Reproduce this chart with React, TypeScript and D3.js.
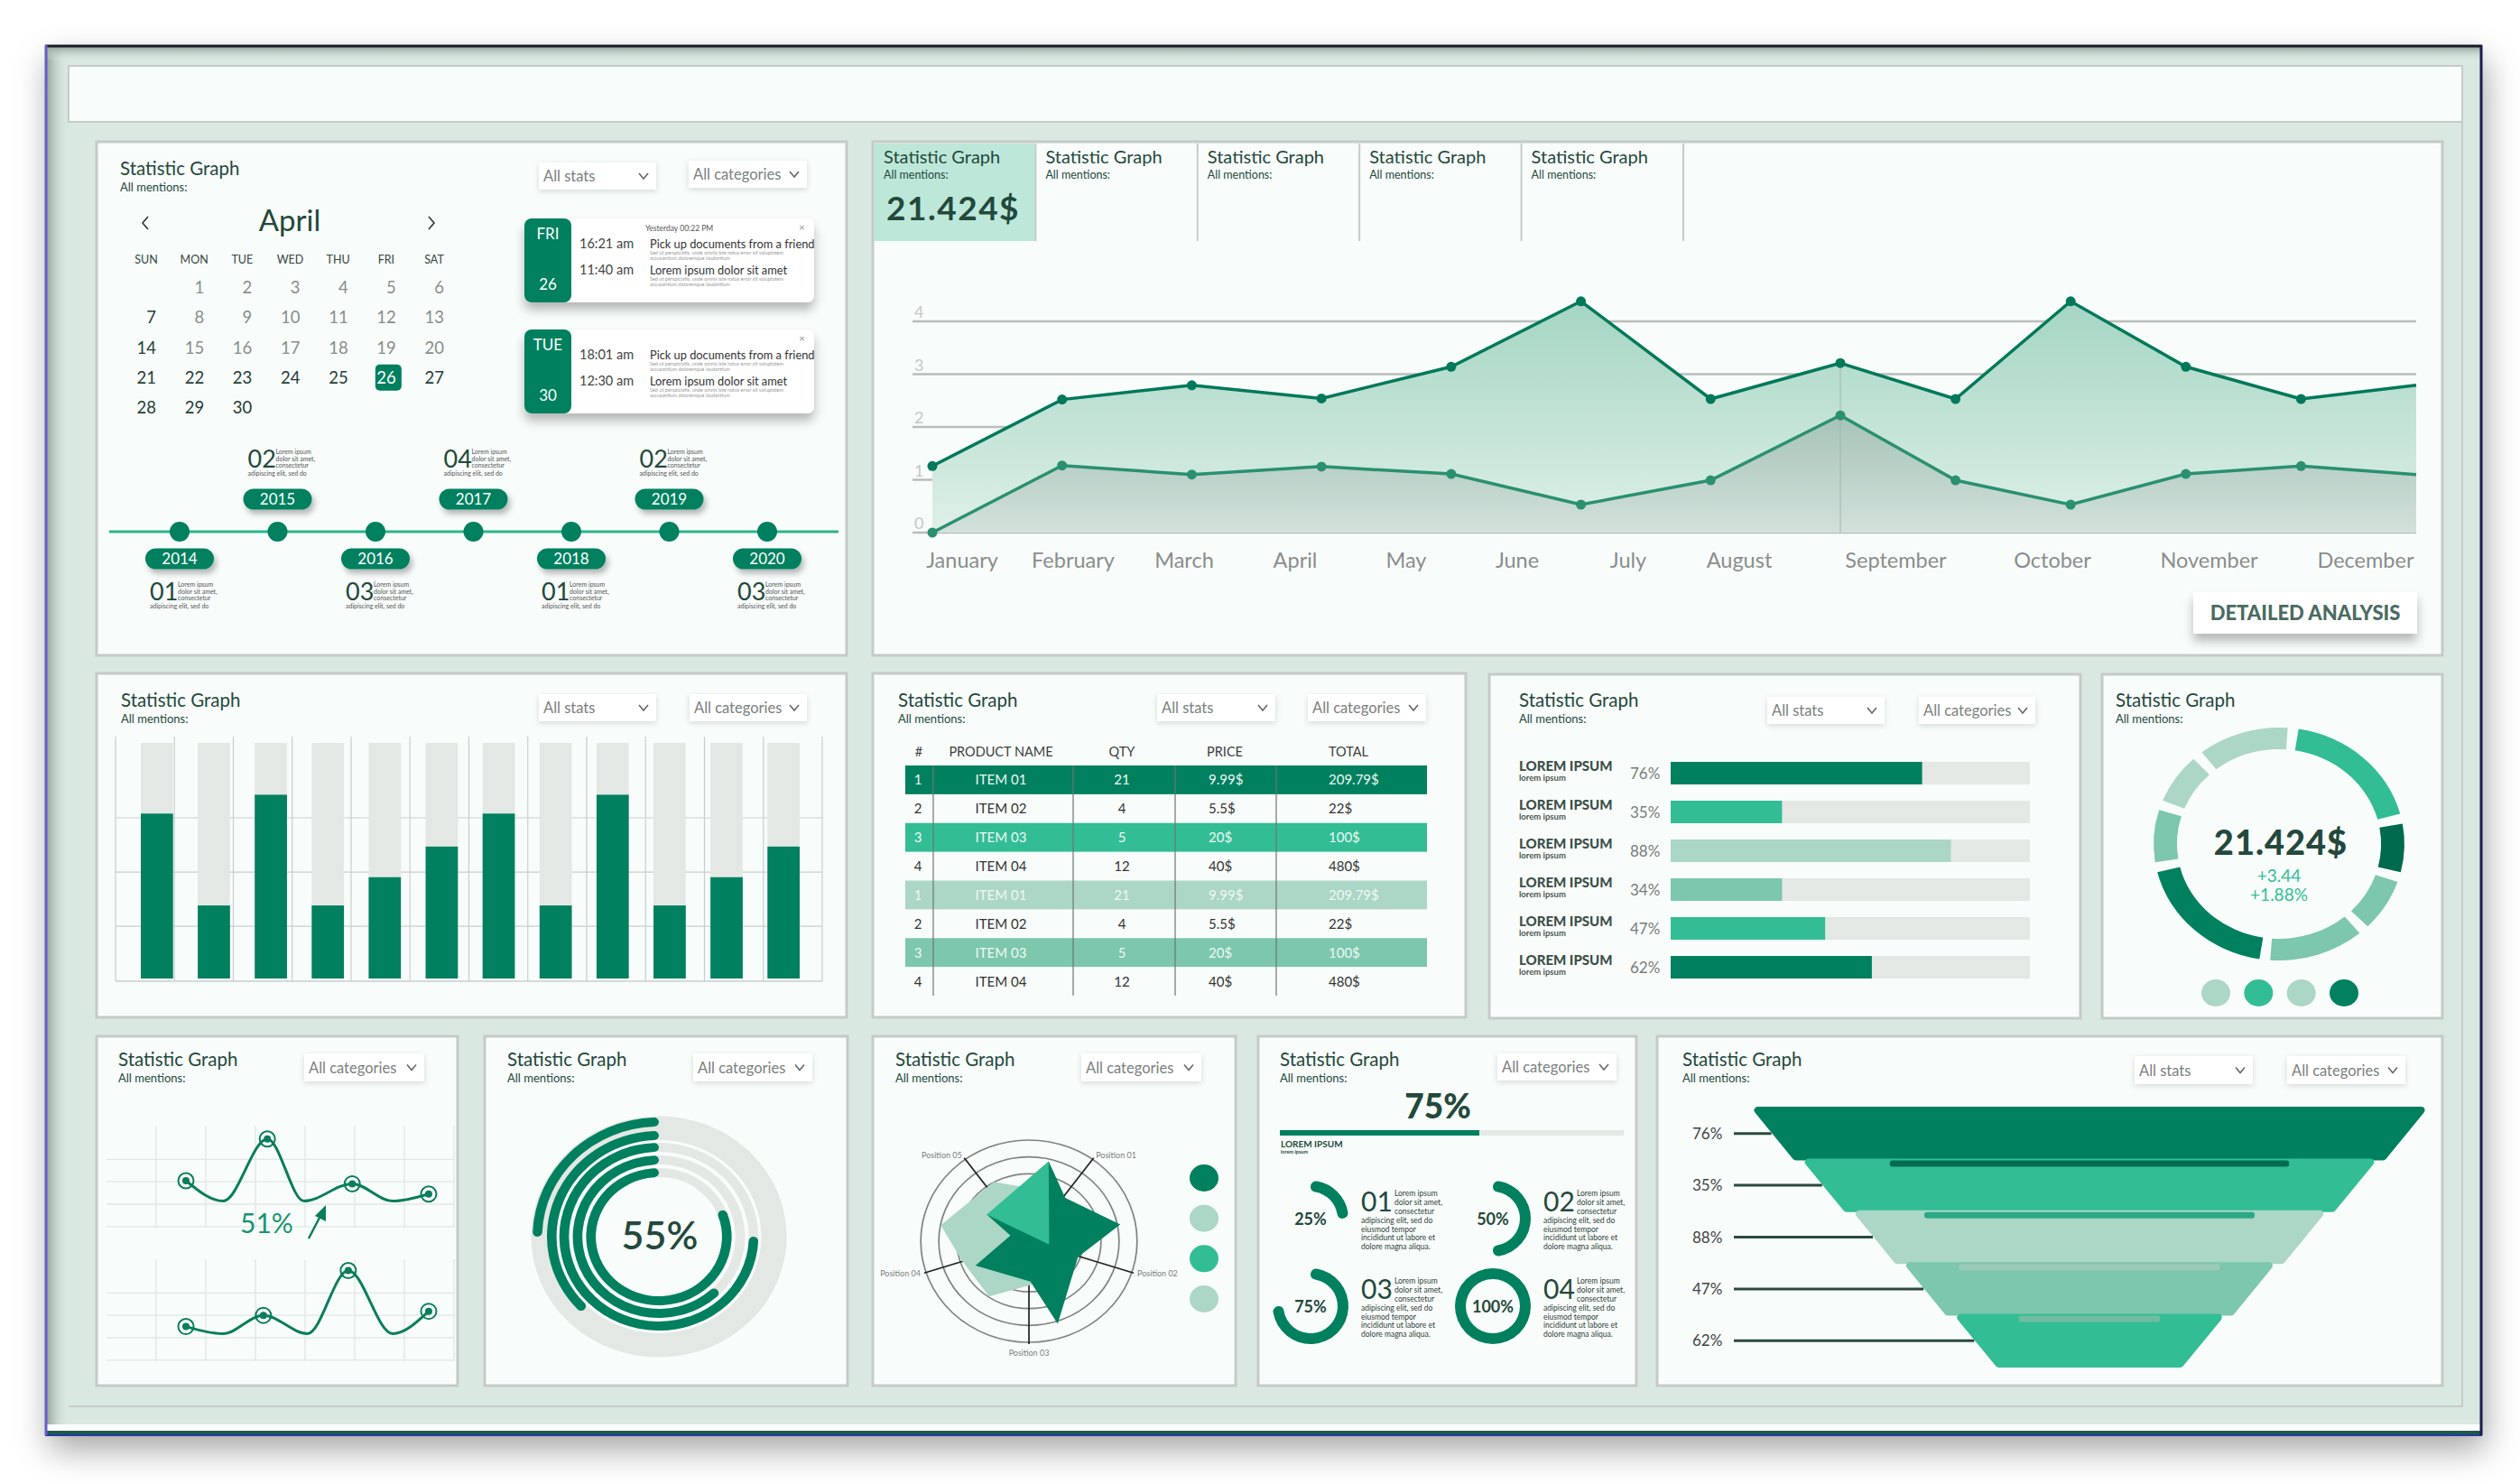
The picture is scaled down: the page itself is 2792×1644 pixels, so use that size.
import React from 'react';
import * as d3 from 'd3';

const W = 2792;
const H = 1644;

const COL = {
  dark: '#00805f',
  darker: '#006a4e',
  mid: '#33bd94',
  light: '#acd6c6',
  midLight: '#7cc7ad',
  track: '#e3e8e5',
  title: '#24483c',
  frame: '#dae8e2',
  panel: '#f8fdfb',
  border: '#c6cac8',
};
const FONT = "Lato, 'Open Sans', sans-serif";

// ---------------- DATA ----------------
const weekDays = ['SUN', 'MON', 'TUE', 'WED', 'THU', 'FRI', 'SAT'];
const calendarRows = [
  [null, 1, 2, 3, 4, 5, 6],
  [7, 8, 9, 10, 11, 12, 13],
  [14, 15, 16, 17, 18, 19, 20],
  [21, 22, 23, 24, 25, 26, 27],
  [28, 29, 30, null, null, null, null],
];
const selectedDay = 26;
const eventDays = ['FRI', 'TUE'];
const eventDates = ['26', '30'];
const eventTimes = [['16:21 am', '11:40 am'], ['18:01 am', '12:30 am']];
const eventTitles = ['Pick up documents from a friend', 'Lorem ipsum dolor sit amet'];
const timelineYears = [2014, 2015, 2016, 2017, 2018, 2019, 2020];
const timelineNums = ['01', '02', '03', '04', '01', '02', '03'];
const loremShort = ['Lorem ipsum', 'dolor sit amet,', 'consectetur'];

const tabTitles = ['Statistic Graph', 'Statistic Graph', 'Statistic Graph', 'Statistic Graph', 'Statistic Graph'];
const months = ['January', 'February', 'March', 'April', 'May', 'June', 'July', 'August', 'September', 'October', 'November', 'December'];
// last value = continuation to the right edge (no marker)
const upperValues = [1.26, 2.52, 2.79, 2.54, 3.14, 4.38, 2.53, 3.21, 2.53, 4.38, 3.14, 2.53, 2.79];
const lowerValues = [0.0, 1.27, 1.1, 1.25, 1.11, 0.53, 0.99, 2.22, 0.99, 0.53, 1.11, 1.26, 1.1];
const lineTicks = [0, 1, 2, 3, 4];

const barValues = [70, 31, 78, 31, 43, 56, 70, 31, 78, 31, 43, 56];
const barGridLevels = [22.2, 45.2, 68.2];

const tableHeaders = ['#', 'PRODUCT NAME', 'QTY', 'PRICE', 'TOTAL'];
const tableIdx = ['1', '2', '3', '4', '1', '2', '3', '4'];
const tableNames = ['ITEM 01', 'ITEM 02', 'ITEM 03', 'ITEM 04', 'ITEM 01', 'ITEM 02', 'ITEM 03', 'ITEM 04'];
const tableQty = ['21', '4', '5', '12', '21', '4', '5', '12'];
const tablePrice = ['9.99$', '5.5$', '20$', '40$', '9.99$', '5.5$', '20$', '40$'];
const tableTotal = ['209.79$', '22$', '100$', '480$', '209.79$', '22$', '100$', '480$'];
const tableFills = [COL.dark, null, COL.mid, null, COL.light, null, COL.midLight, null];

const hbarLabels = ['76%', '35%', '88%', '34%', '47%', '62%'];
const hbarValues = [70, 31, 78, 31, 43, 56];
const hbarColors = [COL.dark, COL.mid, COL.light, COL.midLight, COL.mid, COL.dark];

const donutStart = [9, 80, 109, 140, 189, 261, 292, 322];
const donutEnd = [75, 104, 135, 184, 256, 287, 317, 364];
const donutColors = [COL.mid, COL.darker, COL.midLight, COL.midLight, COL.dark, COL.midLight, COL.light, COL.light];
const donutDots = [COL.light, COL.mid, COL.light, COL.dark];

const wave1X = [1.6, 2.35, 3.24, 3.98, 4.95, 5.76, 6.49];
const wave1Y = [0.46, 0.26, 0.87, 0.26, 0.43, 0.26, 0.33];
const wave2X = [1.6, 2.345, 3.16, 4.05, 4.87, 5.76, 6.49];
const wave2Y = [0.34, 0.27, 0.45, 0.27, 0.89, 0.27, 0.49];
const waveMarkers = [0, 2, 4, 6];
const waveGridLevels = [0.01, 0.23, 0.45, 0.67];
const waveGridCols = [1, 2, 3, 4, 5, 6, 7];

const ringRadii = [127, 112, 99, 85, 71];
const ringSweeps = [90, 136, 270, 226, 294];
const ringTrackWidths = [17, 10, 10, 10, 10];
const ringTrackRadii = [125, 112, 99, 85, 71];

const radarLevels = [2, 3, 4, 5, 6];
const radarAxisAngles = [36, 108, 180, 252, 324];
const radarAxisLabels = ['Position 01', 'Position 02', 'Position 03', 'Position 04', 'Position 05'];
const radarLight = [[90, 0.1], [176, 0.43], [214, 0.66], [253, 0.65], [281, 0.83], [331, 0.67], [351, 0.55]];
const radarDark = [[13, 0.81], [38, 0.545], [79, 0.86], [109, 0.48], [162, 0.86], [178, 0.4], [244, 0.55], [288, 0.18], [304, 0.47], [350, 0.41]];
const radarMid = [[13, 0.81], [100, 0.19], [304, 0.47]];
const radarDots = [COL.dark, COL.light, COL.mid, COL.light];

const progressValue = 58;
const smallRingPct = [25, 50, 75, 100];
const smallRingNums = ['01', '02', '03', '04'];
const loremLong = ['adipiscing elit, sed do', 'eiusmod tempor', 'incididunt ut labore et', 'dolore magna aliqua.'];

const funnelLabels = ['76%', '35%', '88%', '47%', '62%'];
const funnelColors = [COL.dark, COL.mid, COL.light, COL.midLight, COL.mid];
const funnelLipColors = ['#006c50', '#2aa984', '#9bcab8', '#6fbca0'];

// ---------------- HELPERS ----------------
function Panel({ x, y, w, h }) {
  return <rect x={x} y={y} width={w} height={h} fill={COL.panel} stroke={COL.border} strokeWidth={3} />;
}

function Title({ x, y }) {
  return (
    <g fill={COL.title}>
      <text x={x} y={y} fontSize={20.5}>Statistic Graph</text>
      <text x={x} y={y + 18} fontSize={13}>All mentions:</text>
    </g>
  );
}

function Dropdown({ x, y, w, h, label }) {
  return (
    <g>
      <rect x={x} y={y} width={w} height={h} fill="#ffffff" filter="url(#ddShadow)" />
      <text x={x + 5} y={y + h / 2 + 6} fontSize={16.5} fill="#7b807e">{label}</text>
      <path d={`M${x + w - 19},${y + h / 2 - 3} l5,6 l5,-6`} fill="none" stroke="#666" strokeWidth={1.6} />
    </g>
  );
}

function Defs() {
  return (
    <defs>
      <filter id="frameShadow" x="-5%" y="-6%" width="110%" height="116%">
        <feDropShadow dx="4" dy="16" stdDeviation="18" floodColor="#000" floodOpacity="0.35" />
      </filter>
      <filter id="ddShadow" x="-20%" y="-40%" width="140%" height="190%">
        <feDropShadow dx="0" dy="2" stdDeviation="3" floodColor="#000" floodOpacity="0.14" />
      </filter>
      <filter id="cardShadow" x="-10%" y="-20%" width="120%" height="160%">
        <feDropShadow dx="0" dy="8" stdDeviation="6" floodColor="#000" floodOpacity="0.28" />
      </filter>
      <filter id="pillShadow" x="-20%" y="-40%" width="150%" height="200%">
        <feDropShadow dx="3" dy="5" stdDeviation="3" floodColor="#000" floodOpacity="0.28" />
      </filter>
      <linearGradient id="leftInner" x1="0" x2="1" y1="0" y2="0">
        <stop offset="0" stopColor="#94a7a0" />
        <stop offset="1" stopColor={COL.frame} stopOpacity="0" />
      </linearGradient>
      <linearGradient id="topInner" x1="0" x2="0" y1="0" y2="1">
        <stop offset="0" stopColor="#94a7a0" />
        <stop offset="1" stopColor={COL.frame} stopOpacity="0" />
      </linearGradient>
      <linearGradient id="upperArea" gradientUnits="userSpaceOnUse" x1="0" y1="333" x2="0" y2="590">
        <stop offset="0" stopColor="#a4d5c2" />
        <stop offset="1" stopColor="#dff0e9" />
      </linearGradient>
      <linearGradient id="lowerArea" gradientUnits="userSpaceOnUse" x1="0" y1="460" x2="0" y2="590">
        <stop offset="0" stopColor="#a6c3b8" />
        <stop offset="1" stopColor="#d2e1db" />
      </linearGradient>
    </defs>
  );
}

function Frame() {
  return (
    <g>
      <rect x={50} y={50} width={2700} height={1540} fill={COL.frame} filter="url(#frameShadow)" />
      <rect x={52} y={52} width={24} height={1526} fill="url(#leftInner)" />
      <rect x={52} y={52} width={2696} height={16} fill="url(#topInner)" />
      <rect x={52} y={1578} width={2696} height={7} fill="#ffffff" />
      <rect x={50} y={1585} width={2700} height={5} fill="#1f5a48" />
      <line x1={50} x2={2750} y1={1590} y2={1590} stroke="#2a36a8" strokeWidth={2} />
      <line x1={50} x2={2750} y1={51} y2={51} stroke="#1c1c26" strokeWidth={3} />
      <line x1={51} x2={51} y1={50} y2={1590} stroke="#6a5cc8" strokeWidth={3} />
      <line x1={2749} x2={2749} y1={50} y2={1590} stroke="#1c1c4c" strokeWidth={3} />
      <rect x={76} y={73} width={2652} height={62} fill={COL.panel} stroke={COL.border} strokeWidth={2} />
      <path d="M2728,135 V1558 H76" fill="none" stroke={COL.border} strokeWidth={2} />
    </g>
  );
}

// ---------------- PANELS ----------------
function CalendarPanel() {
  const colX = d3.scalePoint().domain(d3.range(7)).range([173, 492]);
  const rowY = d3.scaleLinear().domain([0, 4]).range([325, 458]);
  const cardY = d3.scaleLinear().domain([0, 1]).range([242, 365]);
  const tX = d3.scalePoint().domain(timelineYears).range([199, 850]);
  return (
    <g>
      <Panel x={107} y={157} w={831} h={569} />
      <Title x={133} y={194} />
      <Dropdown x={597} y={180} w={130} h={30} label="All stats" />
      <Dropdown x={763} y={178} w={131} h={30} label="All categories" />
      <text x={321} y={256} fontSize={33} textAnchor="middle" fill={COL.title}>April</text>
      <path d="M164,240 L158,247 L164,254" fill="none" stroke="#333" strokeWidth={1.6} />
      <path d="M475,240 L481,247 L475,254" fill="none" stroke="#333" strokeWidth={1.6} />
      {weekDays.map((d, i) => (
        <text key={d} x={colX(i) - 11} y={292} fontSize={12.5} textAnchor="middle" fill="#34463f">{d}</text>
      ))}
      {calendarRows.map((row, r) =>
        row.map((d, c) =>
          d == null ? null : (
            <g key={`${r}-${c}`}>
              {d === selectedDay && <rect x={colX(c) - 23} y={rowY(r) - 21} width={29} height={29} rx={5} fill={COL.dark} />}
              <text
                x={colX(c)}
                y={rowY(r)}
                fontSize={18.5}
                textAnchor="end"
                fill={d === selectedDay ? '#ffffff' : c === 0 || d >= 21 ? '#263c35' : '#878e8b'}
              >
                {d}
              </text>
            </g>
          )
        )
      )}
      {eventDays.map((day, i) => {
        const y = cardY(i);
        return (
          <g key={day}>
            <rect x={581} y={y} width={321} height={93} rx={8} fill="#ffffff" filter="url(#cardShadow)" />
            <rect x={581} y={y} width={52} height={93} rx={8} fill={COL.dark} />
            <text x={607} y={y + 23} fontSize={17} fill="#ffffff" textAnchor="middle">{day}</text>
            <text x={607} y={y + 79} fontSize={17} fill="#ffffff" textAnchor="middle">{eventDates[i]}</text>
            {i === 0 && <text x={715} y={y + 14} fontSize={8.5} fill="#555">Yesterday 00:22  PM</text>}
            <text x={885} y={y + 14} fontSize={12} fill="#9a9a9a">×</text>
            {eventTimes[i].map((t, j) => (
              <g key={t}>
                <text x={642} y={y + 33 + j * 29} fontSize={14.5} fill="#444">{t}</text>
                <text x={720} y={y + 33 + j * 29} fontSize={12.8} fill="#333">{eventTitles[j]}</text>
                <text x={720} y={y + 40 + j * 29} fontSize={5.5} fill="#9a9a9a">Sed ut perspiciatis, unde omnis iste natus error sit voluptatem</text>
                <text x={720} y={y + 46 + j * 29} fontSize={5.5} fill="#9a9a9a">accusantium doloremque laudantium</text>
              </g>
            ))}
          </g>
        );
      })}
      <line x1={121} x2={929} y1={589} y2={589} stroke="#2db589" strokeWidth={3} />
      {timelineYears.map((yr, i) => {
        const cx = tX(yr);
        const top = i % 2 === 1;
        const py = top ? 553 : 619;
        const nb = top ? 518 : 665;
        return (
          <g key={yr}>
            <circle cx={cx} cy={589} r={11} fill={COL.dark} />
            <rect x={cx - 38} y={py - 11.5} width={76} height={23} rx={11.5} fill={COL.dark} filter="url(#pillShadow)" />
            <text x={cx} y={py + 6} fontSize={17} fill="#ffffff" textAnchor="middle">{yr}</text>
            <text x={cx - 33} y={nb} fontSize={27} fill={COL.title}>{timelineNums[i]}</text>
            {loremShort.map((s, k) => (
              <text key={s} x={cx - 2} y={nb - 15 + k * 7.5} fontSize={7} fill="#555">{s}</text>
            ))}
            <text x={cx - 33} y={nb + 8.5} fontSize={7} fill="#555">adipiscing elit, sed do</text>
          </g>
        );
      })}
    </g>
  );
}

function LineChartPanel() {
  const tabX = d3.scaleLinear().domain([0, 5]).range([968, 1865]);
  const xPt = d3.scaleLinear().domain([0, 7, 12]).range([1033, 2039, 2677]);
  const xM = d3.scaleLinear().domain([0, 7, 11]).range([1066, 1927, 2621]);
  const yL = d3.scaleLinear().domain([0, 4]).range([590, 356]);
  const area = d3.area().x((d, i) => xPt(i)).y0(yL(0)).y1((d) => yL(d));
  const line = d3.line().x((d, i) => xPt(i)).y((d) => yL(d));
  const marks = upperValues.slice(0, months.length);
  const lowMarks = lowerValues.slice(0, months.length);
  return (
    <g>
      <Panel x={967} y={157} w={1739} h={569} />
      <rect x={tabX(0)} y={159} width={tabX(1) - tabX(0)} height={108} fill="#bde8d9" />
      {d3.range(1, 6).map((i) => (
        <line key={i} x1={tabX(i)} x2={tabX(i)} y1={159} y2={267} stroke={COL.border} strokeWidth={2} />
      ))}
      {tabTitles.map((t, i) => (
        <g key={i} fill={COL.title}>
          <text x={tabX(i) + 11} y={181} fontSize={20}>{t}</text>
          <text x={tabX(i) + 11} y={198} fontSize={12.5}>All mentions:</text>
        </g>
      ))}
      <text x={982} y={244} fontSize={37} fontWeight="bold" letterSpacing={1.5} fill={COL.title}>21.424$</text>
      {lineTicks.map((t) => (
        <g key={t}>
          <line x1={1011} x2={2677} y1={yL(t)} y2={yL(t)} stroke="#b9bdbb" strokeWidth={2.5} />
          <text x={1013} y={yL(t) - 4} fontSize={18} fill="#c3c8c6">{t}</text>
        </g>
      ))}
      <path d={area(upperValues)} fill="url(#upperArea)" />
      <path d={area(lowerValues)} fill="url(#lowerArea)" />
      <line x1={xPt(7)} x2={xPt(7)} y1={yL(upperValues[7])} y2={yL(0)} stroke="#9cb8ae" strokeWidth={1} />
      <path d={line(upperValues)} fill="none" stroke="#00795a" strokeWidth={3.5} />
      <path d={line(lowerValues)} fill="none" stroke="#2a9070" strokeWidth={3.5} />
      {marks.map((v, i) => (
        <circle key={`u${i}`} cx={xPt(i)} cy={yL(v)} r={5.5} fill="#00795a" />
      ))}
      {lowMarks.map((v, i) => (
        <circle key={`l${i}`} cx={xPt(i)} cy={yL(v)} r={5.5} fill="#2a9070" />
      ))}
      {months.map((m, i) => (
        <text key={m} x={xM(i)} y={629} fontSize={23.5} textAnchor="middle" fill="#8a8d8c">{m}</text>
      ))}
      <rect x={2430} y={656} width={248} height={46} fill="#ffffff" filter="url(#cardShadow)" />
      <text x={2554} y={687} fontSize={22} fontWeight={900} textAnchor="middle" fill="#4b6b61">DETAILED ANALYSIS</text>
    </g>
  );
}

function BarPanel() {
  const x = d3.scaleBand().domain(d3.range(barValues.length)).range([156, 886]).paddingInner(0.434);
  const y = d3.scaleLinear().domain([0, 100]).range([1084, 823]);
  const gx = d3.scaleLinear().domain([0, 12]).range([128, 911]);
  return (
    <g>
      <Panel x={107} y={746} w={831} h={381} />
      <Title x={134} y={783} />
      <Dropdown x={597} y={769} w={130} h={30} label="All stats" />
      <Dropdown x={764} y={769} w={130} h={30} label="All categories" />
      {d3.range(13).map((i) => (
        <line key={i} x1={gx(i)} x2={gx(i)} y1={816} y2={1087} stroke="#c9cecc" strokeWidth={1.2} />
      ))}
      {barGridLevels.map((v) => (
        <line key={v} x1={128} x2={911} y1={y(v)} y2={y(v)} stroke="#c9cecc" strokeWidth={1.2} />
      ))}
      <line x1={128} x2={911} y1={1087} y2={1087} stroke="#c9cecc" strokeWidth={1.5} />
      {barValues.map((v, i) => (
        <g key={i}>
          <rect x={x(i)} y={y(100)} width={x.bandwidth()} height={y(0) - y(100)} fill={COL.track} />
          <rect x={x(i)} y={y(v)} width={x.bandwidth()} height={y(0) - y(v)} fill={COL.dark} />
        </g>
      ))}
    </g>
  );
}

function TablePanel() {
  const rowY = d3.scaleBand().domain(d3.range(tableIdx.length)).range([848, 1103]);
  const colLines = [1034, 1189, 1302, 1414];
  const headX = [1018, 1109, 1243, 1357, 1494];
  return (
    <g>
      <Panel x={967} y={746} w={657} h={381} />
      <Title x={995} y={783} />
      <Dropdown x={1282} y={769} w={131} h={30} label="All stats" />
      <Dropdown x={1449} y={769} w={131} h={30} label="All categories" />
      {tableHeaders.map((h, i) => (
        <text key={h} x={headX[i]} y={838} fontSize={14.5} textAnchor="middle" fill="#3c3f3e">{h}</text>
      ))}
      {tableIdx.map((idx, i) => {
        const y0 = rowY(i);
        const fill = tableFills[i];
        const tc = fill ? '#eef8f4' : '#333';
        const by = y0 + rowY.bandwidth() / 2 + 5.5;
        return (
          <g key={i} fontSize={15} fill={tc}>
            {fill && <rect x={1003} y={y0} width={578} height={rowY.bandwidth()} fill={fill} />}
            <text x={1017} y={by} textAnchor="middle">{idx}</text>
            <text x={1109} y={by} textAnchor="middle">{tableNames[i]}</text>
            <text x={1243} y={by} textAnchor="middle">{tableQty[i]}</text>
            <text x={1339} y={by}>{tablePrice[i]}</text>
            <text x={1472} y={by}>{tableTotal[i]}</text>
          </g>
        );
      })}
      {colLines.map((cx) => (
        <line key={cx} x1={cx} x2={cx} y1={848} y2={1103} stroke="#6f7673" strokeWidth={1.2} />
      ))}
    </g>
  );
}

function HBarPanel() {
  const x = d3.scaleLinear().domain([0, 100]).range([1851, 2249]);
  const rowY = d3.scaleLinear().domain([0, 5]).range([844, 1059]);
  return (
    <g>
      <Panel x={1650} y={747} w={655} h={381} />
      <Title x={1683} y={783} />
      <Dropdown x={1958} y={772} w={130} h={30} label="All stats" />
      <Dropdown x={2126} y={772} w={129} h={30} label="All categories" />
      {hbarValues.map((v, i) => {
        const y0 = rowY(i);
        return (
          <g key={i}>
            <text x={1683} y={y0 + 10} fontSize={15} fontWeight={900} fill="#3d4f49">LOREM IPSUM</text>
            <text x={1683} y={y0 + 21} fontSize={9.5} fontWeight="bold" fill="#4a5551">lorem ipsum</text>
            <text x={1806} y={y0 + 19} fontSize={17} fill="#777c7a">{hbarLabels[i]}</text>
            <rect x={x(0)} y={y0} width={x(100) - x(0)} height={25} fill={COL.track} />
            <rect x={x(0)} y={y0} width={x(v) - x(0)} height={25} fill={hbarColors[i]} />
          </g>
        );
      })}
    </g>
  );
}

function DonutPanel() {
  const arc = d3.arc().innerRadius(105).outerRadius(129);
  const rad = (d) => (d * Math.PI) / 180;
  const dotX = d3.scalePoint().domain(d3.range(donutDots.length)).range([2455, 2597]);
  return (
    <g>
      <Panel x={2329} y={747} w={377} h={381} />
      <Title x={2344} y={783} />
      <g transform="translate(2525,935) scale(1.077,1)">
        {donutStart.map((s, i) => (
          <path key={i} d={arc({ startAngle: rad(s), endAngle: rad(donutEnd[i]) })} fill={donutColors[i]} />
        ))}
      </g>
      <text x={2527} y={947} fontSize={38} fontWeight={900} letterSpacing={1} textAnchor="middle" fill={COL.title}>21.424$</text>
      <text x={2525} y={977} fontSize={19} textAnchor="middle" fill={COL.mid}>+3.44</text>
      <text x={2525} y={998} fontSize={19} textAnchor="middle" fill={COL.mid}>+1.88%</text>
      {donutDots.map((c, i) => (
        <ellipse key={i} cx={dotX(i)} cy={1100} rx={16} ry={15} fill={c} />
      ))}
    </g>
  );
}

function WavePanel() {
  const x = d3.scaleLinear().domain([0, 7]).range([118, 503]);
  const y1 = d3.scaleLinear().domain([0, 1]).range([1360, 1247]);
  const y2 = d3.scaleLinear().domain([0, 1]).range([1508, 1395]);
  const mk = (xs, ys, ys2) =>
    d3.line().x((d, i) => x(xs[i])).y((d) => ys2(d)).curve(d3.curveMonotoneX)(ys);
  const grid = (ys) => (
    <g stroke="#e1e7e4" strokeWidth={1.3}>
      {waveGridCols.map((c) => (
        <line key={`v${c}`} x1={x(c)} x2={x(c)} y1={ys(1)} y2={ys(0)} />
      ))}
      {waveGridLevels.map((l) => (
        <line key={`h${l}`} x1={x(0)} x2={x(7)} y1={ys(l)} y2={ys(l)} />
      ))}
    </g>
  );
  const markers = (xs, ys, ysc) =>
    waveMarkers.map((i) => (
      <g key={i}>
        <circle cx={x(xs[i])} cy={ysc(ys[i])} r={8.5} fill="none" stroke="#0b7d5c" strokeWidth={2} />
        <circle cx={x(xs[i])} cy={ysc(ys[i])} r={4} fill="#0b7d5c" />
      </g>
    ));
  return (
    <g>
      <Panel x={107} y={1148} w={400} h={387} />
      <Title x={131} y={1181} />
      <Dropdown x={337} y={1167} w={133} h={31} label="All categories" />
      {grid(y1)}
      {grid(y2)}
      <path d={mk(wave1X, wave1Y, y1)} fill="none" stroke="#0b7d5c" strokeWidth={3} />
      <path d={mk(wave2X, wave2Y, y2)} fill="none" stroke="#0b7d5c" strokeWidth={3} />
      {markers(wave1X, wave1Y, y1)}
      {markers(wave2X, wave2Y, y2)}
      <text x={266} y={1366} fontSize={30} fill="#1a9471">51%</text>
      <line x1={342} y1={1372} x2={355} y2={1347} stroke="#0b7d5c" strokeWidth={2.5} />
      <path d="M361,1335 L349,1347 L361,1353 Z" fill="#0b7d5c" />
    </g>
  );
}

function RingsPanel() {
  const rad = (d) => (d * Math.PI) / 180;
  return (
    <g>
      <Panel x={537} y={1148} w={402} h={387} />
      <Title x={562} y={1181} />
      <Dropdown x={768} y={1167} w={132} h={31} label="All categories" />
      <g transform="translate(730,1370) scale(1.06,1)">
        {ringTrackRadii.map((r, i) => (
          <circle key={`t${i}`} r={r} fill="none" stroke={COL.track} strokeWidth={ringTrackWidths[i]} />
        ))}
        {ringRadii.map((r, i) => (
          <path
            key={`a${i}`}
            d={d3.arc().innerRadius(r - 5).outerRadius(r + 5).cornerRadius(5)({ startAngle: -rad(ringSweeps[i]), endAngle: 0 })}
            fill={COL.dark}
          />
        ))}
      </g>
      <text x={731} y={1384} fontSize={43} fontWeight={600} textAnchor="middle" fill={COL.title}>55%</text>
    </g>
  );
}

function RadarPanel() {
  const cx = 1140;
  const cy = 1375;
  const rLevel = d3.scaleLinear().domain([0, 6]).range([0, 112]);
  const rVal = d3.scaleLinear().domain([0, 1]).range([0, 112]);
  const rad = (d) => (d * Math.PI) / 180;
  const radial = d3.lineRadial().angle((d) => rad(d[0])).radius((d) => rVal(d[1])).curve(d3.curveLinearClosed);
  const dotY = d3.scalePoint().domain(d3.range(radarDots.length)).range([1305, 1439]);
  return (
    <g>
      <Panel x={967} y={1148} w={402} h={387} />
      <Title x={992} y={1181} />
      <Dropdown x={1198} y={1167} w={133} h={31} label="All categories" />
      <g transform={`translate(${cx},${cy}) scale(1.07,1)`}>
        {radarLevels.map((l) => (
          <circle key={l} r={rLevel(l)} fill="none" stroke="#7f8482" strokeWidth={1.6} />
        ))}
        {radarAxisAngles.map((a) => (
          <line key={a} x1={0} y1={0} x2={Math.sin(rad(a)) * 114} y2={-Math.cos(rad(a)) * 114} stroke="#222" strokeWidth={1.6} />
        ))}
        <path d={radial(radarLight)} fill={COL.light} />
        <path d={radial(radarDark)} fill={COL.dark} />
        <path d={radial(radarMid)} fill={COL.mid} />
      </g>
      {radarAxisAngles.map((a, i) => {
        const s = Math.sin(rad(a));
        const c = Math.cos(rad(a));
        const lx = cx + s * 118 * 1.07;
        const ly = cy - c * 118;
        const anchor = Math.abs(s) < 0.2 ? 'middle' : s > 0 ? 'start' : 'end';
        return (
          <text key={a} x={lx} y={ly + (c < -0.9 ? 9 : 3)} fontSize={9} textAnchor={anchor} fill="#7a7e7c">
            {radarAxisLabels[i]}
          </text>
        );
      })}
      {radarDots.map((c, i) => (
        <ellipse key={i} cx={1334} cy={dotY(i)} rx={16} ry={15} fill={c} />
      ))}
    </g>
  );
}

function ProgressPanel() {
  const px = d3.scaleLinear().domain([0, 100]).range([1418, 1799]);
  const colX = d3.scalePoint().domain([0, 1]).range([1452, 1654]);
  const rowY = d3.scalePoint().domain([0, 1]).range([1350, 1447]);
  const arc = d3.arc().innerRadius(30).outerRadius(42).cornerRadius(6);
  return (
    <g>
      <Panel x={1394} y={1148} w={419} h={387} />
      <Title x={1418} y={1181} />
      <Dropdown x={1659} y={1167} w={132} h={30} label="All categories" />
      <text x={1593} y={1239} fontSize={37} fontWeight={900} textAnchor="middle" fill={COL.title}>75%</text>
      <rect x={px(0)} y={1252} width={px(100) - px(0)} height={6} fill={COL.track} />
      <rect x={px(0)} y={1252} width={px(progressValue) - px(0)} height={6} fill={COL.dark} />
      <text x={1419} y={1271} fontSize={10} fontWeight="bold" fill={COL.title}>LOREM IPSUM</text>
      <text x={1419} y={1278} fontSize={5.5} fontWeight="bold" fill={COL.title}>lorem ipsum</text>
      {smallRingPct.map((p, i) => {
        const cx = colX(i % 2);
        const cy = rowY(Math.floor(i / 2));
        const nx = cx + 56;
        return (
          <g key={i}>
            <path
              transform={`translate(${cx},${cy})`}
              d={arc({ startAngle: 0, endAngle: (p / 100) * 2 * Math.PI })}
              fill={COL.dark}
            />
            <text x={cx} y={cy + 6.5} fontSize={18} fontWeight="bold" textAnchor="middle" fill={COL.title}>{p}%</text>
            <text x={nx} y={cy - 8} fontSize={30} fill={COL.title}>{smallRingNums[i]}</text>
            {loremShort.map((s, k) => (
              <text key={s} x={nx + 37} y={cy - 25 + k * 10} fontSize={8.5} fill="#2f3d38">{s}</text>
            ))}
            {loremLong.map((s, k) => (
              <text key={s} x={nx} y={cy + 5 + k * 9.7} fontSize={8.5} fill="#2f3d38">{s}</text>
            ))}
          </g>
        );
      })}
    </g>
  );
}

function FunnelPanel() {
  const cx = 2315;
  const yB = d3.scaleLinear().domain([0, 5]).range([1227, 1514]);
  const hw = d3.scaleLinear().domain([0, 4]).range([371.5, 146.7]);
  return (
    <g>
      <Panel x={1836} y={1148} w={870} h={387} />
      <Title x={1864} y={1181} />
      <Dropdown x={2365} y={1170} w={131} h={31} label="All stats" />
      <Dropdown x={2534} y={1170} w={131} h={31} label="All categories" />
      {funnelLabels.map((l, i) => {
        const t = yB(i) + 3;
        const b = yB(i + 1) - 3;
        const ht = hw(i) - 4;
        const hb = hw(i + 0.75) - 4;
        const d = `M${cx - ht},${t} L${cx + ht},${t} L${cx + hb},${b} L${cx - hb},${b} Z`;
        return (
          <path key={i} d={d} fill={funnelColors[i]} stroke={funnelColors[i]} strokeWidth={8} strokeLinejoin="round" />
        );
      })}
      {funnelLipColors.map((c, i) => {
        const lw = (hw(i + 0.75) - 4) * (i === 3 ? 0.5 : 0.68);
        const y0 = yB(i + 1) + 1;
        return <rect key={i} x={cx - lw} y={y0} width={lw * 2} height={7} rx={3} fill={c} />;
      })}
      {funnelLabels.map((l, i) => {
        const ym = (yB(i) + yB(i + 1)) / 2;
        const edge = cx - (hw(i) + hw(i + 0.75)) / 2 - 2;
        return (
          <g key={l + i}>
            <text x={1875} y={ym + 6} fontSize={17} fill="#3f4442">{l}</text>
            <line x1={1921} x2={edge} y1={ym} y2={ym} stroke="#2b4a40" strokeWidth={3} />
          </g>
        );
      })}
    </g>
  );
}

export default function App() {
  return (
    <svg
      width={W}
      height={H}
      style={{ position: 'absolute', left: 0, top: 0, background: '#ffffff' }}
      fontFamily={FONT}
    >
      <Defs />
      <Frame />
      <CalendarPanel />
      <LineChartPanel />
      <BarPanel />
      <TablePanel />
      <HBarPanel />
      <DonutPanel />
      <WavePanel />
      <RingsPanel />
      <RadarPanel />
      <ProgressPanel />
      <FunnelPanel />
    </svg>
  );
}
